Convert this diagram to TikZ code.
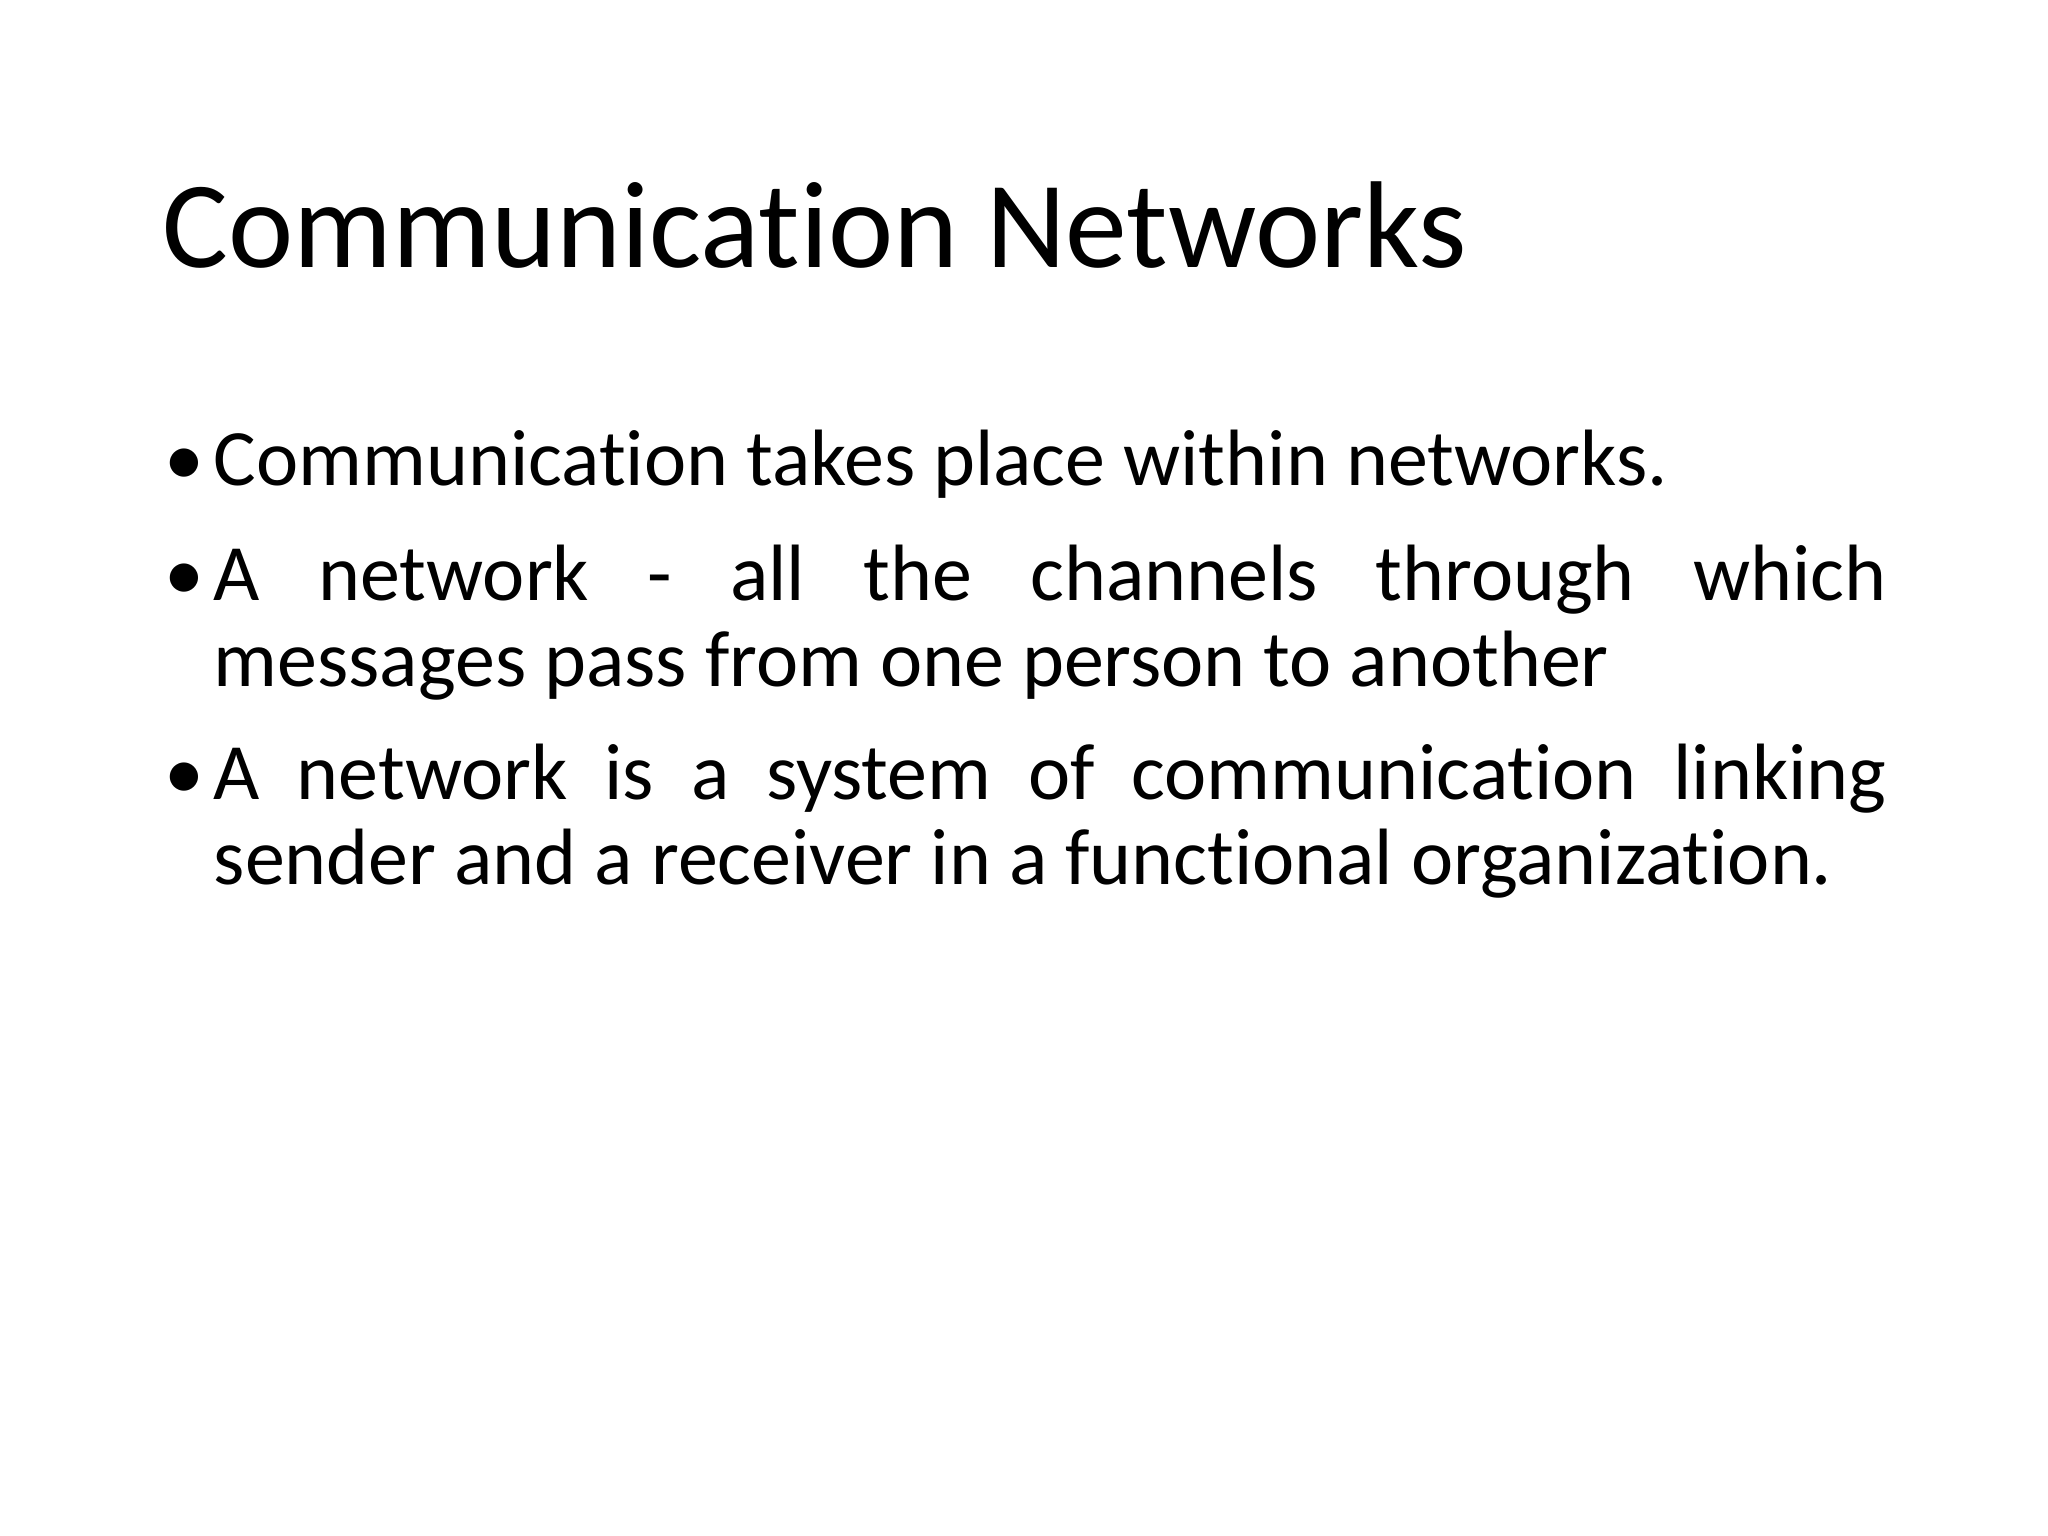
\documentclass[tikz,border=0pt]{standalone}
\usepackage{fontspec}
\setmainfont{Carlito}[Ligatures=NoCommon]
\begin{document}
\begin{tikzpicture}[x=0.01cm,y=-0.01cm,
  para/.style={anchor=base west,inner sep=0pt,font=\fontsize{17.4pt}{18.6pt}\selectfont},
  bul/.style={anchor=base west,inner sep=0pt,font=\fontsize{17.4pt}{18.6pt}\selectfont}]
\fill[white] (0,0) rectangle (1568,1176);
\node[anchor=base west,inner sep=0pt,font=\fontsize{26.9pt}{30pt}\selectfont] (title) at (124,205) {Communication Networks};
\node[bul] (b1) at (125,372) {•};
\node[para] (p1) at (163,372) {\parbox[t]{12.8cm}{\hyphenpenalty=10000\noindent Communication takes place within networks.}};
\node[bul] (b2) at (125,460) {•};
\node[para] (p2) at (163,460) {\parbox[t]{12.8cm}{\hyphenpenalty=10000\noindent A network - all the channels through which\linebreak messages pass from one person to another}};
\node[bul] (b3) at (125,612) {•};
\node[para] (p3) at (163,612) {\parbox[t]{12.8cm}{\hyphenpenalty=10000\noindent A network is a system of communication linking\linebreak sender and a receiver in a functional organization.}};
\end{tikzpicture}
\end{document}
